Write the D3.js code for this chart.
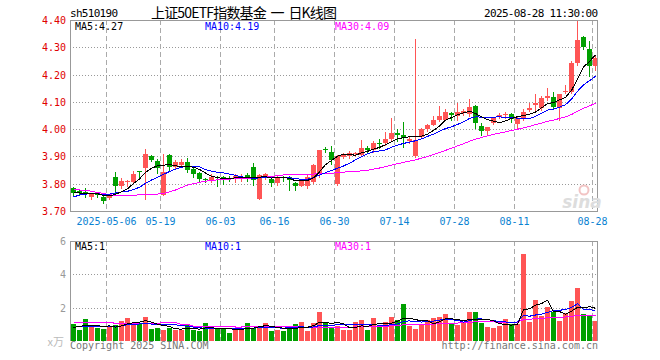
<!DOCTYPE html>
<html>
<head>
<meta charset="utf-8">
<title>sh510190 日K线图</title>
<script src="https://d3js.org/d3.v7.min.js"></script>
<style>
  body { margin: 0; background: #fff; }
  text { font-family: "DejaVu Sans Mono", monospace; font-size: 10px; }
</style>
</head>
<body>
<div id="chart"></div>
<script>
    // trading days shown (2025-04-23 .. 2025-08-28)
    const dates = [
        "04-23","04-24","04-25","04-28","04-29","04-30",
        "05-06","05-07","05-08","05-09","05-12","05-13","05-14","05-15","05-16","05-19","05-20","05-21","05-22","05-23","05-26","05-27","05-28","05-29","05-30",
        "06-03","06-04","06-05","06-06","06-09","06-10","06-11","06-12","06-13","06-16","06-17","06-18","06-19","06-20","06-23","06-24","06-25","06-26","06-27","06-30",
        "07-01","07-02","07-03","07-04","07-07","07-08","07-09","07-10","07-11","07-14","07-15","07-16","07-17","07-18","07-21","07-22","07-23","07-24","07-25","07-28","07-29","07-30","07-31",
        "08-01","08-04","08-05","08-06","08-07","08-08","08-11","08-12","08-13","08-14","08-15","08-18","08-19","08-20","08-21","08-22","08-25","08-26","08-27","08-28"
    ];

    const open = [3.783,3.772,3.770,3.752,3.764,3.752,3.748,3.824,3.790,3.806,
        3.808,3.847,3.859,3.900,3.882,3.760,3.906,3.860,3.867,3.880,
        3.854,3.838,3.818,3.809,3.826,3.824,3.822,3.820,3.820,3.832,
        3.860,3.745,3.820,3.818,3.801,3.825,3.826,3.803,3.792,3.792,
        3.808,3.835,3.928,3.918,3.799,3.899,3.902,3.908,3.907,3.931,
        3.925,3.950,3.948,3.963,3.986,3.979,3.958,3.902,3.971,4.000,
        4.017,4.034,4.035,4.058,4.048,4.060,4.054,4.085,4.012,3.994,
        4.021,4.046,4.052,4.055,4.020,4.041,4.071,4.090,4.078,4.114,
        4.118,4.078,4.136,4.136,4.242,4.336,4.294,4.230];
    const high = [3.788,3.778,3.783,3.767,3.767,3.758,3.761,3.844,3.821,3.815,
        3.845,3.848,3.927,3.907,3.889,3.910,3.910,3.886,3.889,3.895,
        3.860,3.842,3.822,3.836,3.830,3.830,3.828,3.836,3.836,3.838,
        3.876,3.835,3.841,3.822,3.830,3.828,3.829,3.808,3.814,3.836,
        3.872,3.925,3.936,3.938,3.904,3.914,3.920,3.918,3.962,3.938,
        3.955,3.963,3.989,4.042,4.001,4.026,3.972,4.330,4.004,4.020,
        4.048,4.084,4.073,4.064,4.094,4.073,4.112,4.088,4.021,4.009,
        4.046,4.058,4.064,4.058,4.050,4.072,4.096,4.129,4.120,4.151,
        4.136,4.129,4.163,4.249,4.398,4.340,4.322,4.271];
    const low = [3.758,3.760,3.750,3.745,3.753,3.731,3.744,3.765,3.784,3.792,
        3.802,3.826,3.745,3.882,3.838,3.758,3.850,3.853,3.861,3.844,
        3.826,3.806,3.806,3.806,3.790,3.800,3.810,3.806,3.810,3.810,
        3.796,3.743,3.818,3.793,3.797,3.810,3.778,3.776,3.790,3.786,
        3.804,3.826,3.915,3.874,3.796,3.893,3.895,3.900,3.903,3.912,
        3.918,3.932,3.942,3.960,3.958,3.936,3.950,3.897,3.968,3.995,
        4.014,4.030,4.033,4.034,4.034,4.052,4.048,4.003,3.978,3.978,
        4.018,4.040,4.040,4.028,4.000,4.035,4.065,4.071,4.071,4.108,
        4.075,4.035,4.133,4.133,4.236,4.295,4.194,4.218];
    const close = [3.765,3.767,3.765,3.761,3.758,3.736,3.759,3.790,3.811,3.809,
        3.836,3.842,3.909,3.886,3.858,3.843,3.861,3.878,3.879,3.850,
        3.836,3.818,3.812,3.824,3.821,3.818,3.818,3.828,3.826,3.822,
        3.812,3.832,3.837,3.801,3.826,3.821,3.813,3.792,3.811,3.823,
        3.869,3.922,3.925,3.886,3.901,3.908,3.914,3.913,3.932,3.925,
        3.949,3.946,3.964,3.986,3.979,3.967,3.965,3.960,4.002,4.015,
        4.034,4.048,4.064,4.052,4.064,4.068,4.082,4.021,3.994,4.008,
        4.042,4.052,4.056,4.036,4.042,4.063,4.077,4.094,4.114,4.120,
        4.080,4.127,4.141,4.242,4.328,4.300,4.230,4.260];

    // volume, x万
    const volume = [1.02,0.66,1.32,0.86,0.78,0.72,0.86,0.96,1.20,1.38,
        1.10,1.02,1.44,0.72,0.78,0.66,0.78,0.68,0.68,0.94,
        0.66,0.60,1.06,0.72,0.72,0.72,0.48,0.78,0.78,1.06,
        0.78,0.90,1.08,0.60,0.66,0.60,0.76,1.02,1.14,0.60,
        1.08,1.74,1.08,0.76,0.92,0.64,0.64,1.12,1.24,0.64,
        1.36,0.82,1.12,1.42,1.24,2.20,0.88,0.70,1.00,1.24,
        1.36,1.42,1.60,1.06,0.94,1.12,1.72,1.72,1.06,0.82,
        0.76,0.88,1.32,1.00,1.00,5.20,1.12,2.44,1.48,2.02,
        1.72,1.18,1.66,2.38,3.16,1.60,1.50,1.18];

    // moving-average values before a full window exists
    const ma5Head = [3.767,3.766,3.765,3.764];
    const ma10Head = [3.752,3.758,3.762,3.763,3.763,3.761,3.762,3.766,3.770];
    const ma30Head = [3.777,3.777,3.776,3.772,3.768,3.764,3.760,3.757,3.757,3.758,
        3.758,3.759,3.760,3.761,3.762,3.765,3.770,3.777,3.786,3.795,
        3.800,3.805,3.809,3.812,3.814,3.816,3.817,3.818,3.820];
    const volMa5Head = [0.80,0.88,0.92,0.92];
    const volMa10Head = [0.82,0.86,0.88,0.88,0.88,0.87,0.87,0.88,0.90];
    const volMa30Head = [1.12,1.12,1.12,1.12,1.12,1.12,1.12,1.06,1.06,1.06,
        1.06,1.06,1.06,1.06,1.06,1.10,1.10,1.10,1.00,1.00,
        0.88,0.88,0.88,0.88,0.88,0.88,0.88,0.84,0.84];

    const tickDates = ["05-06","05-19","06-03","06-16","06-30","07-14","07-28","08-11","08-28"];
    const tickLabels = ["2025-05-06","05-19","06-03","06-16","06-30","07-14","07-28","08-11","08-28"];
    const volTicks = [2, 4, 6];

    const RED = "#ff5555", GREEN = "#00a000", GRID = "#aaa";

    function movingAvg(arr, n, head) {
        return arr.map((v, i) => i < n - 1 ? head[i] : d3.mean(arr.slice(i - n + 1, i + 1)));
    }
    const trunc = (v, p) => Math.floor(v * Math.pow(10, p) + 1e-9) / Math.pow(10, p);

    const ma5 = movingAvg(close, 5, ma5Head);
    const ma10 = movingAvg(close, 10, ma10Head);
    const ma30 = movingAvg(close, 30, ma30Head);
    const vma5 = movingAvg(volume, 5, volMa5Head);
    const vma10 = movingAvg(volume, 10, volMa10Head);
    const vma30 = movingAvg(volume, 30, volMa30Head);

    const left = 70, right = 598;
    const svg = d3.select("#chart").append("svg")
        .attr("width", 660).attr("height", 360);

    const x = d3.scaleBand().domain(dates).range([left, right]);
    const y = d3.scaleLinear().domain([3.70, 4.40]).range([211, 20]);
    const yv = d3.scaleLinear().domain([0, 6]).range([341, 241]);
    const snap = v => Math.round(v) + 0.5;
    const cx = d => x(d) + 3.5;

    function txt(px, py, s, color, anchor) {
        return svg.append("text").attr("x", px).attr("y", py)
            .attr("fill", color).attr("text-anchor", anchor || "start").text(s);
    }

    // header
    txt(70, 17, "sh510190", "#000").style("font-size", "11px").attr("textLength", 48);
    svg.append("text").attr("x", 151).attr("y", 18)
        .style("font-family", "'Noto Sans CJK SC'").style("font-size", "14px")
        .style("white-space", "pre")
        .attr("textLength", 186)
        .text("上证50ETF指数基金  一  日K线图");
    txt(598, 17, "2025-08-28 11:30:00", "#000", "end").style("font-size", "11px").attr("textLength", 114);

    // ---------- price panel ----------
    const grid = svg.append("g");
    y.ticks(7).forEach(t => {
        const yy = snap(y(t));
        if (t > 3.705 && t < 4.395) {
            grid.append("line").attr("x1", left).attr("x2", right).attr("y1", yy).attr("y2", yy)
                .attr("stroke", "#999").attr("stroke-dasharray", "1,2");
        }
        txt(66, yy + 3.5, d3.format(".2f")(t), "#e00000", "end");
    });
    tickDates.forEach((d, i) => {
        const xx = x(d) + 0.5;
        [[20, 211], [241, 341]].forEach(([a, b]) => {
            grid.append("line").attr("x1", xx).attr("x2", xx).attr("y1", a).attr("y2", b)
                .attr("stroke", GRID).attr("stroke-dasharray", "5,3");
        });
        txt(xx, 225, tickLabels[i], "#0a82d2", "middle");
    });

    // candles
    const candles = svg.append("g").attr("shape-rendering", "crispEdges");
    dates.forEach((d, i) => {
        const up = close[i] >= open[i];
        const col = up ? RED : GREEN;
        candles.append("line")
            .attr("x1", cx(d)).attr("x2", cx(d))
            .attr("y1", Math.round(y(high[i]))).attr("y2", Math.round(y(low[i])) + 1)
            .attr("stroke", col);
        const t = Math.round(y(Math.max(open[i], close[i])));
        const b = Math.round(y(Math.min(open[i], close[i])));
        candles.append("rect")
            .attr("x", x(d) + 1).attr("width", x.bandwidth() - 1)
            .attr("y", t).attr("height", Math.max(1, b - t))
            .attr("fill", col);
        // volume bars
        const vt = Math.round(yv(volume[i]));
        candles.append("rect")
            .attr("x", x(d) + 1).attr("width", x.bandwidth() - 1)
            .attr("y", vt).attr("height", 341 - vt)
            .attr("fill", col);
    });

    // MA lines
    const lines = svg.append("g").attr("fill", "none").attr("shape-rendering", "crispEdges");
    function maLine(vals, scale, color) {
        const gen = d3.line().x((v, i) => cx(dates[i])).y(v => scale(v));
        lines.append("path").attr("d", gen(vals)).attr("stroke", color).attr("stroke-width", 1);
    }
    maLine(ma30, y, "#ff00ff");
    maLine(ma10, y, "#0000ff");
    maLine(ma5, y, "#000");
    maLine(vma30, yv, "#ff00ff");
    maLine(vma10, yv, "#0000ff");
    maLine(vma5, yv, "#000");

    // borders
    const frame = svg.append("g").attr("stroke", "#999").attr("fill", "none").attr("shape-rendering", "crispEdges");
    frame.append("rect").attr("x", left + 0.5).attr("y", 20.5).attr("width", right - left - 1).attr("height", 191);
    frame.append("path").attr("d", `M${left + 0.5},341V241.5H${right - 0.5}V341`);

    // legends
    txt(75, 30, "MA5:" + trunc(ma5[ma5.length - 1], 2).toFixed(2), "#000");
    txt(205, 30, "MA10:" + trunc(ma10[ma10.length - 1], 2).toFixed(2), "#0000ff");
    txt(335, 30, "MA30:" + trunc(ma30[ma30.length - 1], 2).toFixed(2), "#ff00ff");
    txt(75, 250, "MA5:" + Math.floor(vma5[vma5.length - 1]), "#000");
    txt(205, 250, "MA10:" + Math.floor(vma10[vma10.length - 1]), "#0000ff");
    txt(335, 250, "MA30:" + Math.floor(vma30[vma30.length - 1]), "#ff00ff");

    // volume axis
    volTicks.forEach(t => {
        const yy = snap(yv(t));
        if (t < 6) {
            grid.append("line").attr("x1", left).attr("x2", right).attr("y1", yy).attr("y2", yy)
                .attr("stroke", "#999").attr("stroke-dasharray", "1,2");
        }
        txt(66, yy + 3.5, t, "#999", "end");
    });
    svg.append("text").attr("x", 64).attr("y", 346).attr("text-anchor", "end")
        .attr("fill", "#bbb").style("font-family", "'Noto Sans CJK SC'").style("font-size", "11px")
        .text("x万");

    // footer
    txt(70, 349, "Copyright 2025 SINA.COM", "#777");
    txt(598, 349, "http://finance.sina.com.cn", "#777", "end");

    // watermark
    svg.append("circle").attr("cx", 584).attr("cy", 190).attr("r", 4.5)
        .attr("fill", "none").attr("stroke", "#f2c4c4").attr("stroke-width", 2);
    svg.append("text").attr("x", 582).attr("y", 208).attr("text-anchor", "middle")
        .style("font-family", "'DejaVu Sans'").style("font-size", "17px")
        .style("font-weight", "bold").style("font-style", "italic")
        .attr("fill", "#ddd").text("sina");
</script>
</body>
</html>
